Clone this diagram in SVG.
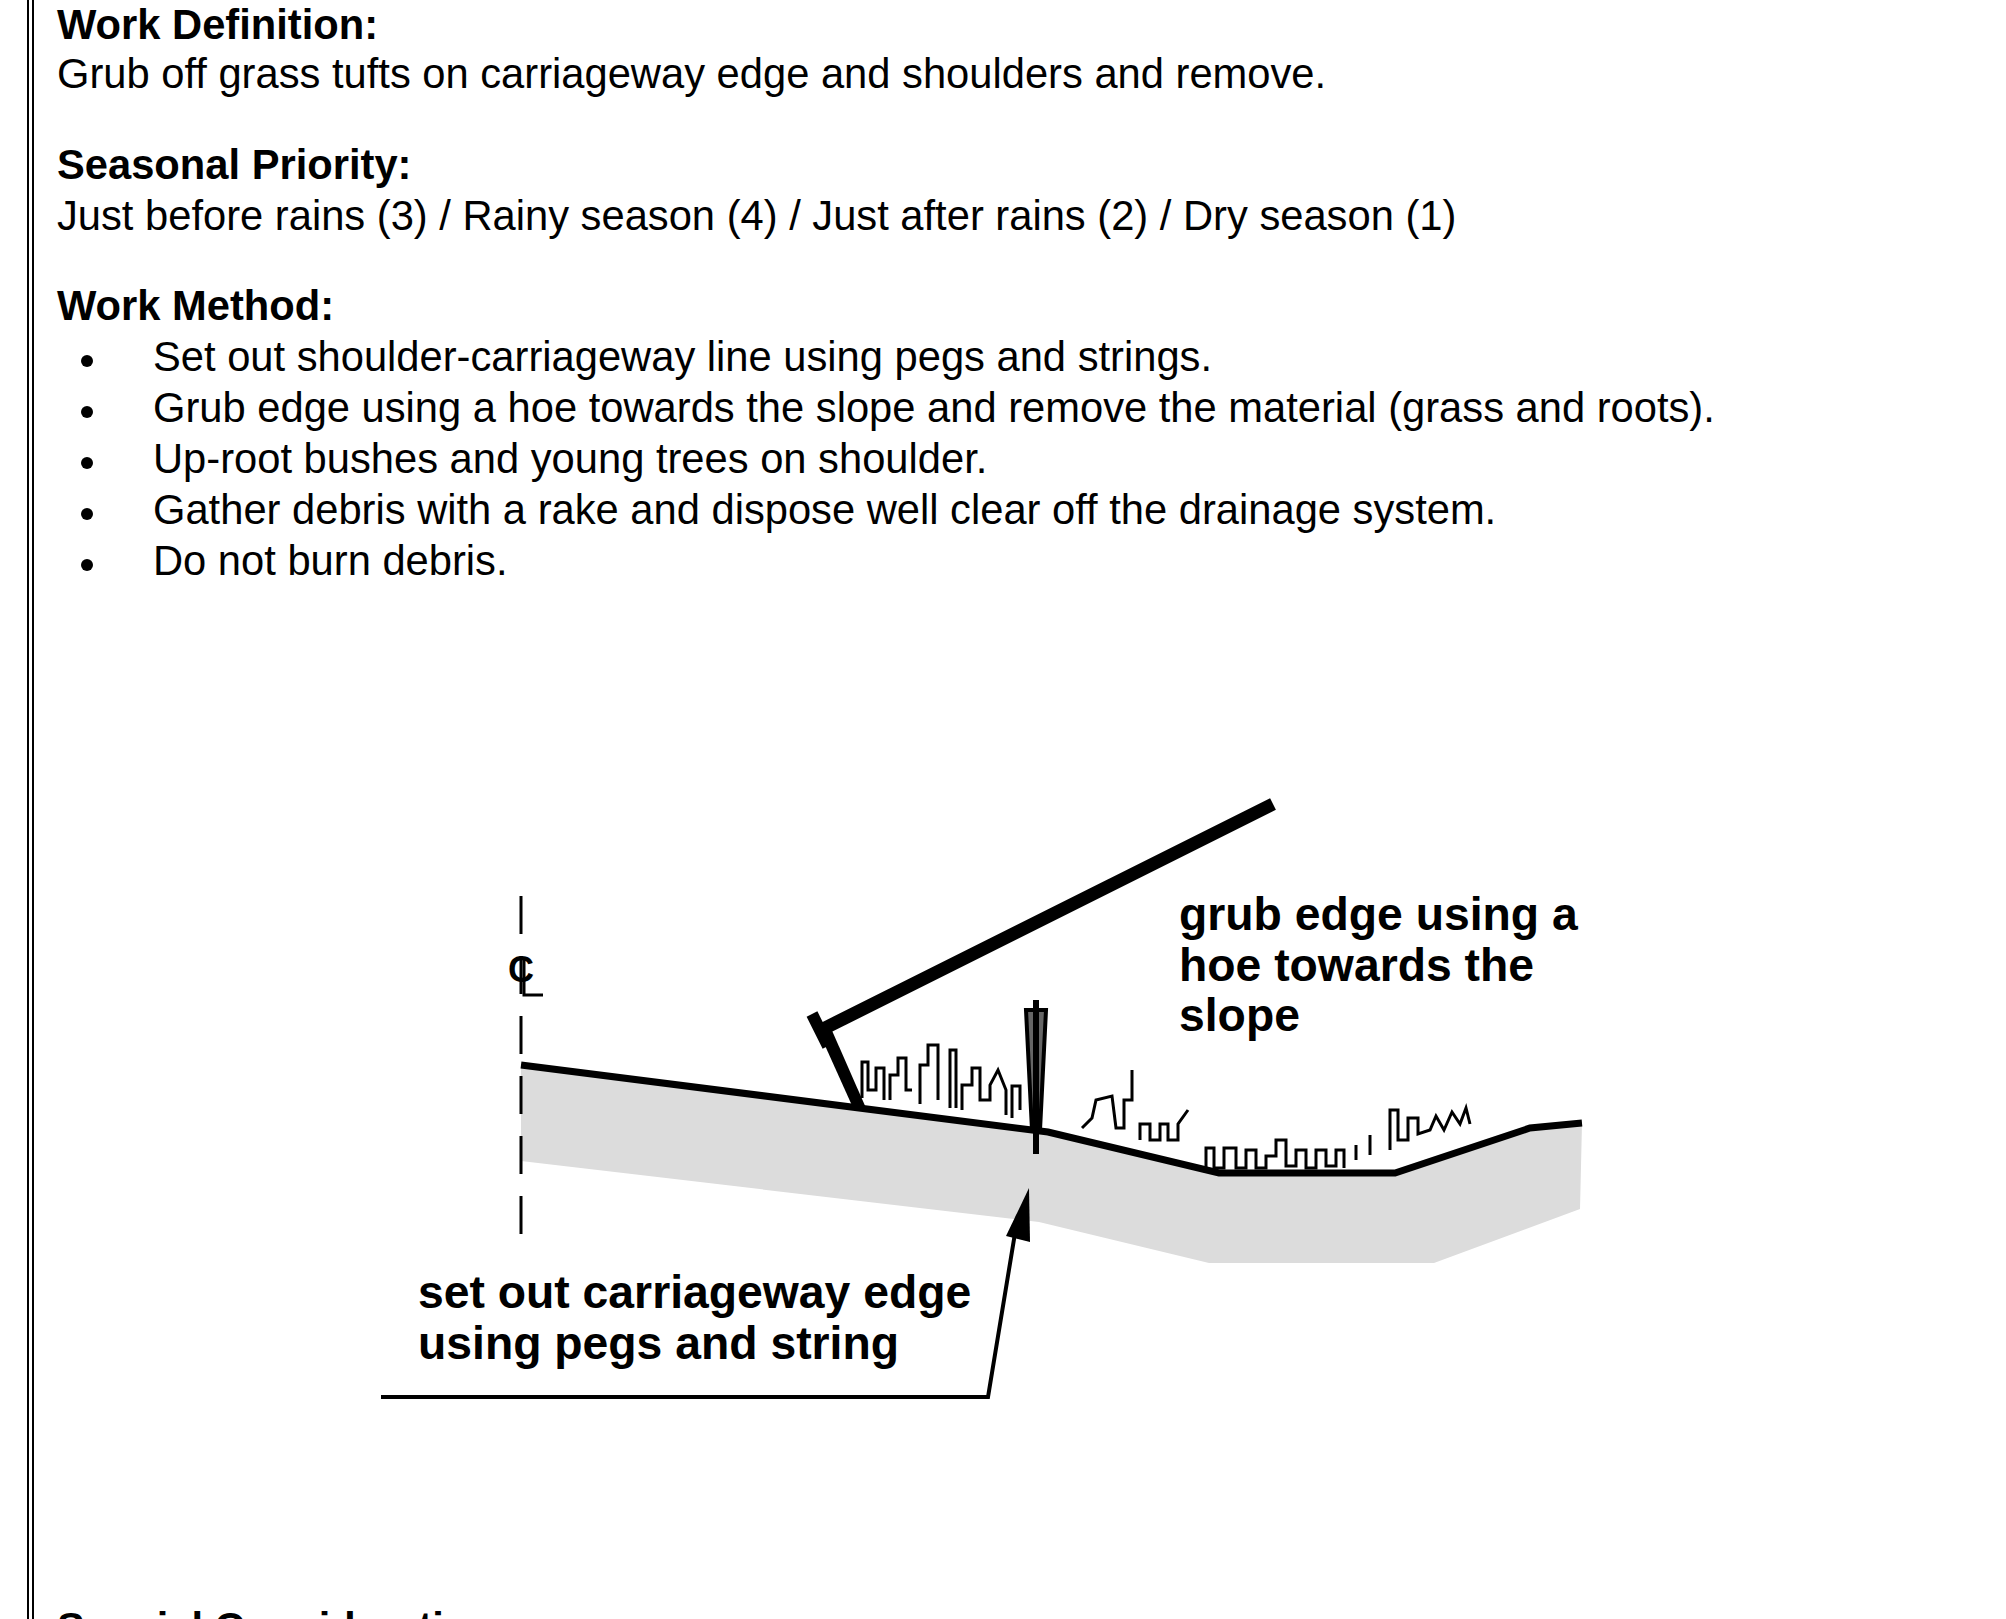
<svg xmlns="http://www.w3.org/2000/svg" width="2006" height="1619" viewBox="0 0 2006 1619">
<style>
text{font-family:"Liberation Sans",Arial,sans-serif;fill:#000}
.h{font-weight:bold;font-size:41.7px}
.b{font-size:41.7px}
.l{font-weight:bold;font-size:46.3px}
.g{fill:none;stroke:#000;stroke-width:3}
</style>
<rect width="2006" height="1619" fill="#fff"/>
<line x1="28" y1="0" x2="28" y2="1619" stroke="#000" stroke-width="2"/>
<line x1="33" y1="0" x2="33" y2="1619" stroke="#000" stroke-width="2"/>
<g id="text">
<text class="h" x="57" y="39">Work Definition:</text>
<text class="b" x="57" y="88">Grub off grass tufts on carriageway edge and shoulders and remove.</text>
<text class="h" x="57" y="179">Seasonal Priority:</text>
<text class="b" x="57" y="230">Just before rains (3) / Rainy season (4) / Just after rains (2) / Dry season (1)</text>
<text class="h" x="57" y="320">Work Method:</text>
<g class="b">
<circle cx="87" cy="361" r="6"/><text class="b" x="153" y="371">Set out shoulder-carriageway line using pegs and strings.</text>
<circle cx="87" cy="412" r="6"/><text class="b" x="153" y="422">Grub edge using a hoe towards the slope and remove the material (grass and roots).</text>
<circle cx="87" cy="463" r="6"/><text class="b" x="153" y="473">Up-root bushes and young trees on shoulder.</text>
<circle cx="87" cy="514" r="6"/><text class="b" x="153" y="524">Gather debris with a rake and dispose well clear off the drainage system.</text>
<circle cx="87" cy="565" r="6"/><text class="b" x="153" y="575">Do not burn debris.</text>
</g>
<text class="h" x="57" y="1642">Special Considerations:</text>
</g>
<g id="ground">
<polygon points="521,1065 1048,1132 1219,1173 1395,1173 1530,1128 1582,1123 1580,1209 1434,1263 1209,1263 1039,1222 521,1161" fill="#dcdcdc"/>
<polyline points="521,1065 1048,1132 1219,1173 1395,1173 1530,1128 1582,1123" fill="none" stroke="#000" stroke-width="7"/>
</g>
<g id="centreline">
<line x1="521" y1="896" x2="521" y2="1245" stroke="#000" stroke-width="3" stroke-dasharray="38,22"/>
<text x="508" y="982" style="font-size:36px;font-weight:bold">C</text>
<polyline points="524,960 524,995 543,995" fill="none" stroke="#000" stroke-width="3"/>
</g>
<g id="grass">
<polyline class="g" points="862,1098 862,1062 868,1062 868,1090 876,1090 876,1068 884,1068 884,1100"/>
<polyline class="g" points="890,1100 890,1075 898,1075 898,1058 906,1058 906,1090 912,1090"/>
<polyline class="g" points="920,1104 920,1065 928,1065 928,1045 938,1045 938,1100"/>
<polyline class="g" points="950,1108 950,1050 956,1050 956,1108"/>
<polyline class="g" points="962,1110 962,1085 972,1085 972,1068 980,1068 980,1100 990,1100 990,1085 998,1070 1006,1090 1006,1115"/>
<polyline class="g" points="1012,1118 1012,1086 1020,1086 1020,1110"/>
<polyline class="g" points="1082,1128 1092,1118 1096,1100 1112,1096 1116,1128 1124,1128 1124,1100 1132,1100 1132,1070"/>
<polyline class="g" points="1140,1140 1140,1124 1150,1124 1150,1140 1160,1140 1160,1124 1168,1124 1168,1140 1178,1140 1178,1124 1188,1110"/>
<polyline class="g" points="1206,1168 1206,1148 1214,1148 1214,1168 1224,1168 1224,1148 1236,1148 1236,1168 1246,1168 1246,1150 1256,1150 1256,1168 1266,1168 1266,1156 1276,1156 1276,1140 1286,1140 1286,1166 1296,1166 1296,1150 1306,1150 1306,1168 1316,1168 1316,1150 1326,1150 1326,1166 1336,1166 1336,1150 1344,1150 1344,1168"/>
<polyline class="g" points="1356,1160 1356,1145"/><polyline class="g" points="1370,1155 1370,1135"/>
<polyline class="g" points="1390,1150 1390,1110 1398,1110 1398,1140 1408,1140 1408,1118 1418,1118 1418,1134 1430,1130 1436,1116 1444,1130 1452,1112 1460,1124 1466,1108 1470,1124"/>
</g>
<g id="hoe">
<line x1="823" y1="1029" x2="1273" y2="804" stroke="#000" stroke-width="13"/>
<line x1="812" y1="1014" x2="828" y2="1046" stroke="#000" stroke-width="12"/>
<polygon points="818,1030 830,1026 866,1108 854,1110" fill="#000"/>
</g>
<g id="peg">
<polygon points="1026,1010 1046,1010 1040,1130 1032,1130" fill="#666" stroke="#000" stroke-width="4"/>
<line x1="1036" y1="1000" x2="1036" y2="1154" stroke="#000" stroke-width="6"/>
</g>
<g id="connectors">
<polyline points="381,1397 988,1397 1018,1215" fill="none" stroke="#000" stroke-width="4"/>
<polygon points="1029,1188 1030,1242 1006,1236" fill="#000"/>
</g>
<g id="labels">
<text class="l" x="1179" y="930">grub edge using a</text>
<text class="l" x="1179" y="981">hoe towards the</text>
<text class="l" x="1179" y="1031">slope</text>
<text class="l" x="418" y="1308">set out carriageway edge</text>
<text class="l" x="418" y="1359">using pegs and string</text>
</g>
</svg>
